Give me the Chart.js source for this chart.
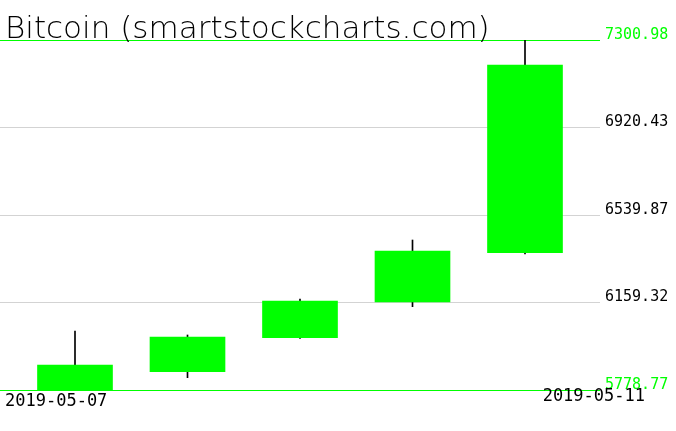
<!DOCTYPE html>
<html>
<head>
<meta charset="utf-8">
<script src="https://cdn.jsdelivr.net/npm/chart.js@4/dist/chart.umd.min.js"></script>
<style>
  html, body { margin: 0; padding: 0; background: #fff; }
  #wrap { width: 676px; height: 431px; }
</style>
</head>
<body>
<div id="wrap"><canvas id="btcChart"></canvas></div>
<script>
// Bitcoin daily candles
const dates = ['2019-05-07', '2019-05-08', '2019-05-09', '2019-05-10', '2019-05-11'];
const opens = [5780.0, 5858.4, 6006.2, 6161.5, 6375.9];
const highs = [6035.4, 6018.0, 6174.6, 6431.1, 7300.98];
const lows = [5778.77, 5832.3, 6003.0, 6141.1, 6371.0];
const closes = [5887.5, 6009.3, 6165.9, 6383.3, 7192.3];
const yTicks = [5778.77, 6159.32, 6539.87, 6920.43, 7300.98];
const title = 'Bitcoin (smartstockcharts.com)';

const GREEN = '#00ff00';
const bodies = dates.map((d, i) => ({ x: i, y: [opens[i], closes[i]] }));
const wicks = dates.map((d, i) => ({ x: i, y: [lows[i], highs[i]] }));

// title and first/last date drawn on the canvas
const labelsPlugin = {
    id: 'labelsPlugin',
    afterDraw(chart) {
        const c = chart.ctx;
        const area = chart.chartArea;
        c.save();
        c.fillStyle = '#000';
        c.textAlign = 'left';
        c.textBaseline = 'alphabetic';
        c.font = '300 31px "DejaVu Sans"';
        c.fillText(title, area.left + 5, area.top - 2, 497);
        c.font = '17px "DejaVu Sans Mono"';
        c.fillText(dates[0], area.left + 5, area.bottom + 16, 104);
        c.textAlign = 'right';
        c.fillText(dates[dates.length - 1], area.right + 45, area.bottom + 11, 104);
        c.restore();
    }
};

const ctx = document.getElementById('btcChart').getContext('2d');
const btcChart = new Chart(ctx, {
    type: 'bar',
    data: {
        datasets: [{
            data: bodies,
            backgroundColor: GREEN,
            borderWidth: 0,
            barThickness: 75,
            grouped: false
        }, {
            data: wicks,
            backgroundColor: '#000',
            borderWidth: 0,
            barThickness: 1,
            grouped: false
        }]
    },
    options: {
        responsive: true,
        maintainAspectRatio: false,
        animation: false,
        layout: { padding: { top: 40, bottom: 41, left: 0, right: 0 } },
        plugins: {
            legend: { display: false },
            tooltip: { enabled: false }
        },
        scales: {
            x: {
                type: 'linear',
                offset: false,
                min: -2 / 3,
                max: dates.length - 1 + 2 / 3,
                display: false
            },
            y: {
                position: 'right',
                min: yTicks[0],
                max: yTicks[yTicks.length - 1],
                afterBuildTicks: (axis) => { axis.ticks = yTicks.map(v => ({ value: v })); },
                afterFit: (axis) => { axis.width = 76; },
                border: { display: false },
                grid: {
                    drawTicks: false,
                    lineWidth: 1,
                    color: (c) => (c.index === 0 || c.index === yTicks.length - 1) ? GREEN : '#d3d3d3'
                },
                ticks: {
                    padding: 5,
                    labelOffset: -5,
                    font: { family: '"DejaVu Sans Mono"', size: 15 },
                    color: (c) => (c.index === 0 || c.index === yTicks.length - 1) ? GREEN : '#000',
                    callback: (v) => v.toFixed(2)
                }
            }
        }
    },
    plugins: [labelsPlugin]
});
</script>
</body>
</html>
